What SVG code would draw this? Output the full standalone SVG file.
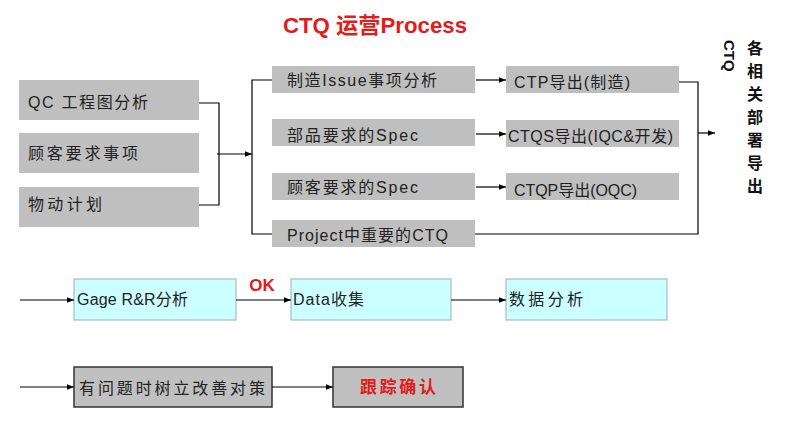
<svg xmlns="http://www.w3.org/2000/svg" width="798" height="431" viewBox="0 0 798 431">
<defs>
<marker id="ah" viewBox="0 0 10 10" refX="10" refY="5" markerWidth="7" markerHeight="7" markerUnits="userSpaceOnUse" orient="auto">
<path d="M0,1 L10,5 L0,9 z" fill="#000"/>
</marker>
</defs>
<style>
.g{fill:#bfbfbf;stroke:none}
.c{fill:#ccffff;stroke:#a9b8d4;stroke-width:1.2}
.d{fill:#c0c0c0;stroke:#333;stroke-width:1.5}
.t{font-family:"Liberation Sans","Noto Sans CJK SC",sans-serif;font-size:16px;fill:#222}
.w{fill:none;stroke:#000;stroke-width:1.2}
.a{fill:none;stroke:#000;stroke-width:1.2;marker-end:url(#ah)}
.red{font-family:"Liberation Sans","Noto Sans CJK SC",sans-serif;font-weight:bold;fill:#e21b1b}
.v{font-family:"Noto Sans CJK SC",sans-serif;font-weight:bold;font-size:16px;fill:#111}
</style>
<rect width="798" height="431" fill="#fff"/>
<text class="red" x="375" y="33" font-size="22" text-anchor="middle" textLength="184" lengthAdjust="spacingAndGlyphs">CTQ 运营Process</text>

<g id="n-qc"><rect class="g" x="19" y="80" width="180" height="40"/><text class="t" x="28" y="108" textLength="120">QC 工程图分析</text></g>
<g id="n-kehu"><rect class="g" x="19" y="133" width="180" height="40"/><text class="t" x="28" y="159" textLength="110">顾客要求事项</text></g>
<g id="n-wudong"><rect class="g" x="19" y="187" width="180" height="40"/><text class="t" x="28" y="210" textLength="74">物动计划</text></g>

<g id="n-issue"><rect class="g" x="272" y="66" width="203" height="27"/><text class="t" x="287" y="86" textLength="150">制造Issue事项分析</text></g>
<g id="n-bupin"><rect class="g" x="272" y="119" width="203" height="27"/><text class="t" x="287" y="141" textLength="131">部品要求的Spec</text></g>
<g id="n-kspec"><rect class="g" x="272" y="173" width="203" height="27"/><text class="t" x="287" y="193" textLength="131">顾客要求的Spec</text></g>
<g id="n-project"><rect class="g" x="272" y="220" width="203" height="27"/><text class="t" x="287" y="241" textLength="161">Project中重要的CTQ</text></g>

<g id="n-ctp"><rect class="g" x="506" y="66" width="173" height="27"/><text class="t" x="514" y="88" textLength="116">CTP导出(制造)</text></g>
<g id="n-ctqs"><rect class="g" x="506" y="120" width="173" height="27"/><text class="t" x="508" y="142" textLength="165">CTQS导出(IQC&amp;开发)</text></g>
<g id="n-ctqp"><rect class="g" x="506" y="173" width="173" height="27"/><text class="t" x="514" y="196" textLength="123">CTQP导出(OQC)</text></g>

<g id="n-out">
<text font-family="Liberation Sans,sans-serif" font-weight="bold" font-size="15" fill="#111" transform="translate(724,40) rotate(90)">CTQ</text>
<text class="v" x="755" y="54" text-anchor="middle">各</text>
<text class="v" x="755" y="77" text-anchor="middle">相</text>
<text class="v" x="755" y="100" text-anchor="middle">关</text>
<text class="v" x="755" y="123" text-anchor="middle">部</text>
<text class="v" x="755" y="146" text-anchor="middle">署</text>
<text class="v" x="755" y="169" text-anchor="middle">导</text>
<text class="v" x="755" y="192" text-anchor="middle">出</text>
</g>

<g id="n-gage"><rect class="c" x="74" y="279" width="162" height="41"/><text class="t" x="77" y="305" textLength="111">Gage R&amp;R分析</text></g>
<g id="n-data"><rect class="c" x="291" y="279" width="160" height="41"/><text class="t" x="293" y="305" textLength="71">Data收集</text></g>
<g id="n-ana"><rect class="c" x="506" y="279" width="161" height="41"/><text class="t" x="509" y="305" textLength="74">数据分析</text></g>

<g id="n-fix"><rect class="d" x="74" y="367" width="198" height="40"/><text class="t" x="79" y="394" textLength="186">有问题时树立改善对策</text></g>
<g id="n-track"><rect class="d" x="333" y="367" width="130" height="40"/><text class="red" x="398" y="393" font-size="17" text-anchor="middle" textLength="76">跟踪确认</text></g>

<text class="red" x="262" y="291" font-size="17" text-anchor="middle">OK</text>

<g id="connectors">
<path class="w" d="M199,103 H219 V205 H199"/>
<path class="a" d="M217,154 H252"/>
<path class="w" d="M272,80 H252 V234 H272"/>
<path class="a" d="M476,80 H506"/>
<path class="a" d="M476,134 H506"/>
<path class="a" d="M476,187 H506"/>
<path class="w" d="M679,82 H698 V234 H475"/>
<path class="a" d="M698,133 H715"/>
<path class="a" d="M20,300 H74"/>
<path class="a" d="M236,300 H291"/>
<path class="a" d="M451,300 H506"/>
<path class="a" d="M20,387 H74"/>
<path class="a" d="M272,387 H333"/>
</g>
</svg>
